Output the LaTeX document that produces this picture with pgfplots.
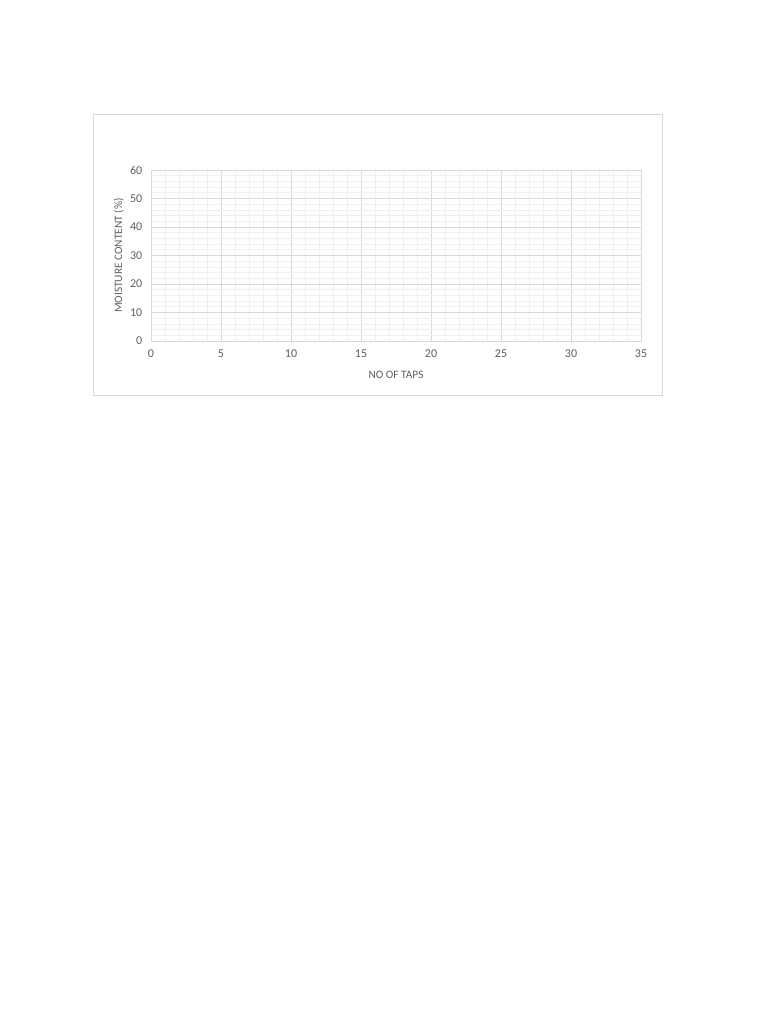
\documentclass[border=0pt]{standalone}
\usepackage{pgfplots}
\pgfplotsset{compat=1.18}
\usepackage{fontspec}
\setmainfont{Carlito}
\definecolor{framegray}{RGB}{217,217,217}
\definecolor{majgray}{RGB}{217,217,217}
\definecolor{mingray}{RGB}{240,240,240}
\definecolor{txtgray}{RGB}{95,95,95}
\begin{document}
\begin{tikzpicture}
\path[use as bounding box,fill=white] (0pt,0pt) rectangle (576pt,-768pt);
\draw[framegray,line width=0.75pt] (69.75pt,-85.5pt) rectangle (496.5pt,-296.25pt);
\begin{axis}[
  at={(113.25pt,-255.75pt)}, anchor=south west,
  scale only axis, width=367.5pt, height=128.25pt,
  xmin=0, xmax=35, ymin=0, ymax=60,
  xtick={0,5,...,35}, ytick={0,10,...,60},
  minor x tick num=4, minor y tick num=4,
  grid=both,
  major grid style={majgray,line width=0.6pt},
  minor grid style={mingray,line width=0.5pt},
  axis line style={majgray,line width=0.6pt},
  tick style={draw=none},
  ticklabel style={font=\fontsize{9}{10}\selectfont, text=txtgray},
  /pgf/number format/assume math mode=true,
  xticklabel style={yshift=-3pt},
  yticklabel style={xshift=-3pt},
  xlabel={NO OF TAPS},
  ylabel={MOISTURE CONTENT (\%)},
  label style={font=\fontsize{8.5}{10}\selectfont, text=txtgray},
  xlabel style={yshift=-3pt},
  ylabel style={yshift=-2pt},
]
\addplot[draw=none, forget plot] coordinates {(0,0)};
\end{axis}
\end{tikzpicture}
\end{document}
